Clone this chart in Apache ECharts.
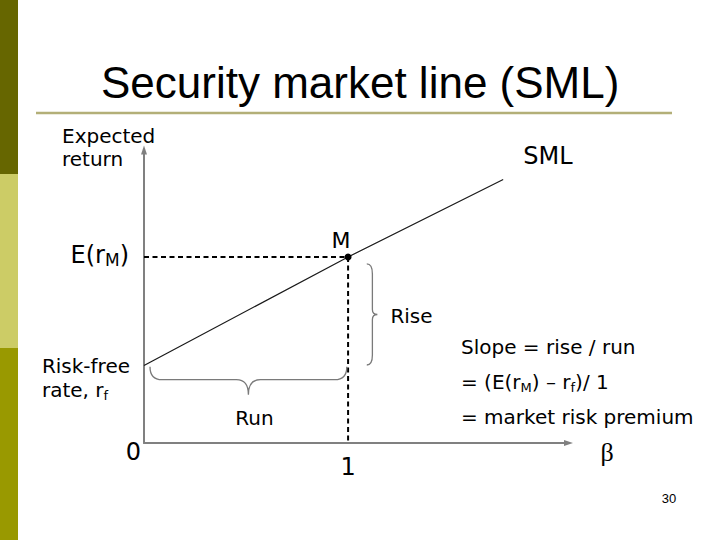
<!DOCTYPE html>
<html>
<head>
<meta charset="utf-8">
<script src="https://cdn.jsdelivr.net/npm/echarts@6/dist/echarts.min.js"></script>
<style>
html, body { margin: 0; padding: 0; background: #ffffff; }
#chart { width: 720px; height: 540px; }
</style>
</head>
<body>
<div id="chart"></div>
<script>
// ---------- values ----------
const slideTitle = 'Security market line (SML)';
const xAxisName = 'β';
const yAxisName = 'Expected\nreturn';
const betaTicks = [0, 1];              // β of the risk-free asset and of the market portfolio
const betaTickLabels = ['0', '1'];
const riskFreeRate = 5;                // r_f  (arbitrary return scale)
const marketReturn = 12;               // E(r_M)
const smlBeta = [0, 1, 1.76];          // security market line
const smlReturn = [5, 12, 17.0];
const betaMax = 2.08;
const returnMax = 18.9;
const braceNames = ['Run', 'Rise'];
const slopeLines = ['Slope = rise / run', '= (E(r{s|M}) – r{s|f})/ 1', '= market risk premium'];
const pageNumber = '30';

// ---------- styling ----------
const FONT = '"DejaVu Sans", Verdana, sans-serif';
const SERIF = '"Liberation Serif", "Times New Roman", serif';
const ARIAL = '"Liberation Sans", Arial, sans-serif';
const AXIS_GRAY = '#808080';

const chart = echarts.init(document.getElementById('chart'), null, { renderer: 'svg', width: 720, height: 540 });

// brace geometry (pixel insets / depths), by brace index
const BRACE_GEOM = [
  { a: [6, 1.2], b: [-1.3, 1.2], n: [0, 1], d1: 13, d2: 15, r: 12, r2: 12, text: [6, 23], align: 'center' },
  { a: [18.7, 7], b: [18.7, -0.5], n: [1, 0], d1: 5.6, d2: 5, r: 10, r2: 5, text: [13, 2], align: 'left' }
];

const braceData = [
  [betaTicks[0], riskFreeRate, betaTicks[1], riskFreeRate, 0],
  [betaTicks[1], marketReturn, betaTicks[1], riskFreeRate, 1]
];

function renderBrace(params, api) {
  const i = api.value(4);
  const g = BRACE_GEOM[i];
  const a = api.coord([api.value(0), api.value(1)]);
  const b = api.coord([api.value(2), api.value(3)]);
  const p1 = [a[0] + g.a[0], a[1] + g.a[1]];
  const p2 = [b[0] + g.b[0], b[1] + g.b[1]];
  const L = Math.hypot(p2[0] - p1[0], p2[1] - p1[1]);
  const t = [(p2[0] - p1[0]) / L, (p2[1] - p1[1]) / L];
  const n = g.n;
  const P = (u, v) => (p1[0] + u * t[0] + v * n[0]).toFixed(2) + ' ' + (p1[1] + u * t[1] + v * n[1]).toFixed(2);
  const h = L / 2;
  const d = 'M' + P(0, 0) +
    ' Q' + P(0, g.d1) + ' ' + P(g.r, g.d1) +
    ' L' + P(h - g.r2, g.d1) +
    ' Q' + P(h, g.d1) + ' ' + P(h, g.d1 + g.d2) +
    ' Q' + P(h, g.d1) + ' ' + P(h + g.r2, g.d1) +
    ' L' + P(L - g.r, g.d1) +
    ' Q' + P(L, g.d1) + ' ' + P(L, 0);
  const tipX = p1[0] + h * t[0] + (g.d1 + g.d2) * n[0];
  const tipY = p1[1] + h * t[1] + (g.d1 + g.d2) * n[1];
  return {
    type: 'group',
    children: [
      { type: 'path', shape: { pathData: d }, style: { fill: 'none', stroke: '#7a7a7a', lineWidth: 1.3 } },
      { type: 'text', x: tipX + g.text[0], y: tipY + g.text[1],
        style: { text: braceNames[i], fill: '#000', fontFamily: FONT, fontSize: 20,
                 align: g.align, verticalAlign: 'middle', textAlign: g.align, textVerticalAlign: 'middle' } }
    ]
  };
}

const subRich = { fontFamily: FONT, fontSize: 13, lineHeight: 10, verticalAlign: 'bottom', color: '#000', fill: '#000', align: 'left' };
const mainRich = { fontFamily: FONT, fontSize: 20, lineHeight: 24, color: '#000', fill: '#000', align: 'left' };

const option = {
  animation: false,
  backgroundColor: '#ffffff',
  grid: { left: 144, right: 151.5, top: 150, bottom: 97, containLabel: false, outerBoundsMode: 'none' },
  xAxis: {
    type: 'value', min: 0, max: betaMax,
    axisLine: { show: true, onZero: false, symbol: ['none', 'triangle'], symbolSize: [6, 9],
                lineStyle: { color: AXIS_GRAY, width: 2 } },
    axisTick: { show: false }, splitLine: { show: false },
    axisLabel: { show: true, customValues: [betaTicks[1]],
                 formatter: v => betaTickLabels[betaTicks.indexOf(v)],
                 fontFamily: FONT, fontSize: 24, color: '#000', margin: 12 },
    name: xAxisName, nameLocation: 'end', nameGap: 32,
    nameTextStyle: { fontFamily: SERIF, fontSize: 26, lineHeight: 18, color: '#000', verticalAlign: 'top' }
  },
  yAxis: {
    type: 'value', min: 0, max: returnMax,
    axisLine: { show: true, onZero: false, symbol: ['none', 'triangle'], symbolSize: [6, 9],
                lineStyle: { color: AXIS_GRAY, width: 2 } },
    axisTick: { show: false }, splitLine: { show: false },
    axisLabel: { show: true, customValues: [betaTicks[0]],
                 formatter: () => betaTickLabels[0],
                 fontFamily: FONT, fontSize: 24, lineHeight: 18, color: '#000', margin: 3, verticalAlign: 'top' },
    name: yAxisName, nameLocation: 'end', nameGap: -20.5,
    nameTextStyle: { fontFamily: FONT, fontSize: 20, lineHeight: 23, color: '#000',
                     align: 'left', verticalAlign: 'bottom', padding: [0, 0, 0, -82] }
  },
  series: [
    {
      type: 'line', name: 'SML', silent: true, z: 3,
      data: smlBeta.map((b, i) => [b, smlReturn[i]]),
      symbol: 'none',
      lineStyle: { color: '#1a1a1a', width: 1.2 },
      endLabel: { show: true, formatter: 'SML', fontFamily: FONT, fontSize: 24, color: '#000', distance: 8, offset: [12, -23] }
    },
    {
      type: 'line', name: 'guides', silent: true, z: 2,
      data: [[betaTicks[0], marketReturn], [betaTicks[1], marketReturn], [betaTicks[1], 0]],
      symbol: 'none',
      lineStyle: { color: '#000', width: 2, type: [5, 3.5] }
    },
    {
      type: 'scatter', name: 'M', silent: true, z: 5, clip: false,
      data: [[betaTicks[1], marketReturn]],
      symbol: 'circle', symbolSize: 7, itemStyle: { color: '#000', opacity: 1 },
      label: { show: true, formatter: 'M', position: 'inside', offset: [-7, -16], opacity: 1,
               fontFamily: FONT, fontSize: 22, color: '#000' }
    },
    {
      type: 'scatter', name: 'levels', silent: true, z: 5, clip: false,
      symbol: 'circle', symbolSize: 0, itemStyle: { color: '#000', opacity: 1 },
      data: [
        { value: [betaTicks[0], riskFreeRate],
          label: { show: true, position: 'left', distance: 14, offset: [0, 13], opacity: 1, color: '#000',
                   formatter: '{t|Risk-free}\n{t|rate, r}{s|f}',
                   rich: { t: mainRich, s: subRich } } },
        { value: [betaTicks[0], marketReturn],
          label: { show: true, position: 'left', distance: 15, offset: [0, -2], opacity: 1, color: '#000',
                   formatter: '{e|E(r}{es|M}{e|)}',
                   rich: { e: { fontFamily: FONT, fontSize: 24, lineHeight: 28, color: '#000' },
                           es: { fontFamily: FONT, fontSize: 17, lineHeight: 17, verticalAlign: 'bottom', color: '#000' } } } }
      ]
    },
    {
      type: 'custom', name: 'braces', silent: true, z: 4, clip: false,
      data: braceData,
      renderItem: renderBrace
    }
  ],
  graphic: [
    { type: 'rect', silent: true, shape: { x: 0, y: 0, width: 18, height: 174 }, style: { fill: '#666600' } },
    { type: 'rect', silent: true, shape: { x: 0, y: 174, width: 18, height: 174 }, style: { fill: '#CCCC66' } },
    { type: 'rect', silent: true, shape: { x: 0, y: 348, width: 18, height: 192 }, style: { fill: '#999900' } },
    { type: 'line', silent: true, shape: { x1: 36, y1: 113, x2: 672, y2: 113 }, style: { stroke: '#B3AF78', lineWidth: 2.5 } },
    { type: 'text', silent: true, x: 101, y: 82.5,
      style: { text: slideTitle, fontFamily: ARIAL, fontSize: 44, fill: '#000',
               align: 'left', verticalAlign: 'middle', textAlign: 'left', textVerticalAlign: 'middle' } },
    ...slopeLines.map((txt, i) => ({
      type: 'text', silent: true, x: 461, y: 347 + 35 * i,
      style: { text: txt, fontFamily: FONT, fontSize: 20, lineHeight: 24, fill: '#000',
               rich: { s: subRich },
               align: 'left', verticalAlign: 'middle', textAlign: 'left', textVerticalAlign: 'middle' }
    })),
    { type: 'text', silent: true, x: 669, y: 498,
      style: { text: pageNumber, fontFamily: ARIAL, fontSize: 13, fill: '#000',
               align: 'center', verticalAlign: 'middle', textAlign: 'center', textVerticalAlign: 'middle' } }
  ]
};

chart.setOption(option);
</script>
</body>
</html>
